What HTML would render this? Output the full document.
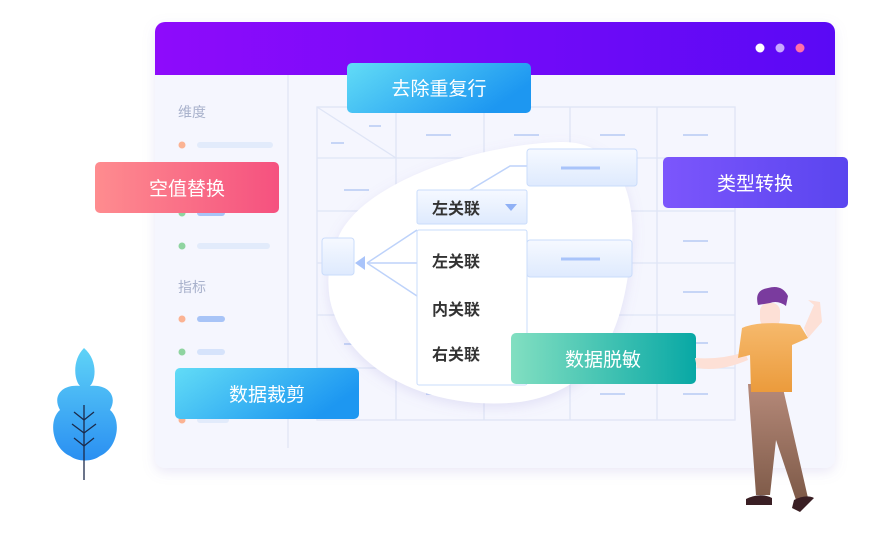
<!DOCTYPE html>
<html><head><meta charset="utf-8"><style>
html,body{margin:0;padding:0;background:#fff;}
svg{display:block;font-family:"Liberation Sans","Noto Sans CJK SC",sans-serif;}
</style></head><body>
<svg width="891" height="540" viewBox="0 0 891 540" xmlns="http://www.w3.org/2000/svg">
<defs>
<linearGradient id="hd" x1="0" x2="1"><stop offset="0" stop-color="#8e0bfb"/><stop offset="1" stop-color="#5a09f5"/></linearGradient>
<linearGradient id="cy" x1="0" y1="0" x2="1" y2="0.4"><stop offset="0" stop-color="#62dcf6"/><stop offset="1" stop-color="#1d97f1"/></linearGradient>
<linearGradient id="pk" x1="0" x2="1"><stop offset="0" stop-color="#fe8c8f"/><stop offset="1" stop-color="#f5517f"/></linearGradient>
<linearGradient id="pu" x1="0" x2="1"><stop offset="0" stop-color="#7c56fc"/><stop offset="1" stop-color="#5a45ef"/></linearGradient>
<linearGradient id="tl" x1="0" x2="1"><stop offset="0" stop-color="#82dfc1"/><stop offset="1" stop-color="#08a8a5"/></linearGradient>
<linearGradient id="bx" x1="0" y1="0" x2="0" y2="1"><stop offset="0" stop-color="#f6f9ff"/><stop offset="1" stop-color="#deeafe"/></linearGradient>
<linearGradient id="sh" x1="0" y1="0" x2="0" y2="1"><stop offset="0" stop-color="#f6b96c"/><stop offset="1" stop-color="#eb9b3c"/></linearGradient>
<linearGradient id="pt" x1="0" y1="0" x2="0" y2="1"><stop offset="0" stop-color="#b68a7a"/><stop offset="1" stop-color="#7e5a48"/></linearGradient>
<linearGradient id="lf" x1="0" y1="0" x2="0" y2="1"><stop offset="0" stop-color="#5fd3f7"/><stop offset="1" stop-color="#2a8ff2"/></linearGradient>
<filter id="ds" x="-20%" y="-20%" width="140%" height="160%"><feDropShadow dx="0" dy="4" stdDeviation="6" flood-color="#8a7fd0" flood-opacity="0.18"/></filter>
</defs>
<rect x="155" y="22" width="680" height="446" rx="10" fill="#f5f6fe" filter="url(#ds)"/>
<path d="M165 22 H825 A10 10 0 0 1 835 32 V75 H155 V32 A10 10 0 0 1 165 22Z" fill="url(#hd)"/>
<circle cx="760" cy="48" r="4.5" fill="#fff"/><circle cx="780" cy="48" r="4.5" fill="#c9a8ff"/><circle cx="800" cy="48" r="4.5" fill="#ff6fa8"/>
<line x1="288" y1="75" x2="288" y2="448" stroke="#e3e7f6" stroke-width="1.5"/>
<text x="178" y="117" font-size="14" fill="#a9b2cc">维度</text>
<circle cx="182" cy="145" r="3.5" fill="#fbb393"/><rect x="197" y="142" width="76" height="6" rx="3" fill="#e2ebfb"/>
<circle cx="182" cy="213" r="3.5" fill="#8fd4a0"/><rect x="197" y="210" width="28" height="6" rx="3" fill="#a8c4f7"/>
<circle cx="182" cy="246" r="3.5" fill="#8fd4a0"/><rect x="197" y="243" width="73" height="6" rx="3" fill="#e2ebfb"/>
<text x="178" y="292" font-size="14" fill="#a9b2cc">指标</text>
<circle cx="182" cy="319" r="3.5" fill="#fbb393"/><rect x="197" y="316" width="28" height="6" rx="3" fill="#a8c4f7"/>
<circle cx="182" cy="352" r="3.5" fill="#8fd4a0"/><rect x="197" y="349" width="28" height="6" rx="3" fill="#d6e3fb"/>
<circle cx="182" cy="420" r="3.5" fill="#fbb393"/><rect x="197" y="417" width="32" height="6" rx="3" fill="#e2ebfb"/>
<g stroke="#dfe5f6" stroke-width="1.3" fill="none">
<rect x="317" y="107" width="418" height="313"/>
<line x1="396" y1="107" x2="396" y2="420"/><line x1="484" y1="107" x2="484" y2="420"/><line x1="570" y1="107" x2="570" y2="420"/><line x1="657" y1="107" x2="657" y2="420"/>
<line x1="317" y1="158" x2="735" y2="158"/><line x1="317" y1="211" x2="735" y2="211"/><line x1="317" y1="263" x2="735" y2="263"/><line x1="317" y1="315" x2="735" y2="315"/><line x1="317" y1="368" x2="735" y2="368"/>
<line x1="317" y1="107" x2="396" y2="158"/>
</g>
<g stroke="#c6d5f6" stroke-width="2">
<line x1="369" y1="126" x2="381" y2="126"/><line x1="331" y1="143" x2="344" y2="143"/>
<line x1="426" y1="135" x2="451" y2="135"/><line x1="514" y1="135" x2="539" y2="135"/><line x1="600" y1="135" x2="625" y2="135"/><line x1="683" y1="135" x2="708" y2="135"/>
<line x1="344" y1="190" x2="369" y2="190"/><line x1="683" y1="241" x2="708" y2="241"/><line x1="683" y1="292" x2="708" y2="292"/><line x1="683" y1="343" x2="708" y2="343"/><line x1="683" y1="394" x2="708" y2="394"/>
<line x1="344" y1="344" x2="369" y2="344"/><line x1="426" y1="394" x2="451" y2="394"/><line x1="600" y1="394" x2="625" y2="394"/>
</g>
<path d="M338 238 C360 185 470 145 560 142 C620 140 640 200 630 260 C622 330 600 390 520 402 C430 412 345 370 330 300 C326 275 330 255 338 238Z" fill="#fff" filter="url(#ds)"/>
<g stroke="#bdd2fa" stroke-width="1.5" fill="none">
<path d="M367 263 L417 230"/><path d="M367 263 L417 263"/><path d="M367 263 L417 296"/>
<path d="M470 190 L510 166 L527 166"/>
</g>
<polygon points="355,263 365,256 365,270" fill="#a9c4fa"/>
<rect x="322" y="238" width="32" height="37" rx="3" fill="url(#bx)" stroke="#cadcfb"/>
<rect x="527" y="149" width="110" height="37" rx="3" fill="url(#bx)" stroke="#cadcfb"/>
<rect x="527" y="240" width="105" height="37" rx="3" fill="url(#bx)" stroke="#cadcfb"/>
<line x1="561" y1="168" x2="600" y2="168" stroke="#a9c4fa" stroke-width="3"/>
<line x1="561" y1="259" x2="600" y2="259" stroke="#a9c4fa" stroke-width="3"/>
<rect x="417" y="190" width="110" height="34" rx="2" fill="url(#bx)" stroke="#cadcfb"/>
<text x="432" y="214" font-size="16" font-weight="bold" fill="#333">左关联</text>
<polygon points="505,204 517,204 511,211" fill="#8fb0f5"/>
<rect x="417" y="230" width="110" height="155" rx="2" fill="#fff" stroke="#cadcfb"/>
<text x="432" y="267" font-size="16" font-weight="bold" fill="#333">左关联</text>
<text x="432" y="315" font-size="16" font-weight="bold" fill="#333">内关联</text>
<text x="432" y="360" font-size="16" font-weight="bold" fill="#333">右关联</text>
<rect x="347" y="63" width="184" height="50" rx="5" fill="url(#cy)"/>
<text x="439" y="95" font-size="19" fill="#fff" text-anchor="middle">去除重复行</text>
<rect x="95" y="162" width="184" height="51" rx="5" fill="url(#pk)"/>
<text x="187" y="195" font-size="19" fill="#fff" text-anchor="middle">空值替换</text>
<rect x="663" y="157" width="185" height="51" rx="5" fill="url(#pu)"/>
<text x="755" y="190" font-size="19" fill="#fff" text-anchor="middle">类型转换</text>
<rect x="511" y="333" width="185" height="51" rx="5" fill="url(#tl)"/>
<text x="603" y="366" font-size="19" fill="#fff" text-anchor="middle">数据脱敏</text>
<rect x="175" y="368" width="184" height="51" rx="5" fill="url(#cy)"/>
<text x="267" y="401" font-size="19" fill="#fff" text-anchor="middle">数据裁剪</text>
<path d="M84 348 C72 360 74 380 80 386 C62 384 52 396 60 410 C48 420 52 448 70 456 C78 462 92 462 100 456 C118 448 122 420 110 410 C118 396 108 384 90 386 C96 380 98 360 84 348Z" fill="url(#lf)"/>
<g stroke="#1b2a4a" stroke-width="1.3" fill="none"><path d="M84 405 V480"/><path d="M84 420 L74 412 M84 420 L94 412 M84 433 L72 424 M84 433 L96 424 M84 446 L74 438 M84 446 L94 438"/></g>
<path d="M748 384 L782 384 L808 498 L796 500 L776 440 L770 495 L756 495 Z" fill="url(#pt)"/>
<path d="M746 499 Q760 492 772 498 L772 505 L746 505Z" fill="#3a1f24"/>
<path d="M794 500 Q806 494 814 498 L800 512 L792 508Z" fill="#3a1f24"/>
<path d="M695 358 Q720 360 745 352 L748 360 Q720 372 697 368Z" fill="#fde0d6"/>
<path d="M804 328 L814 305 L808 300 L820 302 L822 322 L808 338Z" fill="#fde0d6"/>
<rect x="760" y="303" width="20" height="24" rx="8" fill="#fde0d6"/>
<path d="M758 305 Q754 290 768 288 Q782 284 788 296 L786 306 Q778 300 770 303 Z" fill="#7a3b9e"/>
<path d="M742 328 Q760 320 800 325 L808 338 L792 345 L792 392 L751 392 L750 355 L738 358Z" fill="url(#sh)"/>
</svg>
</body></html>
